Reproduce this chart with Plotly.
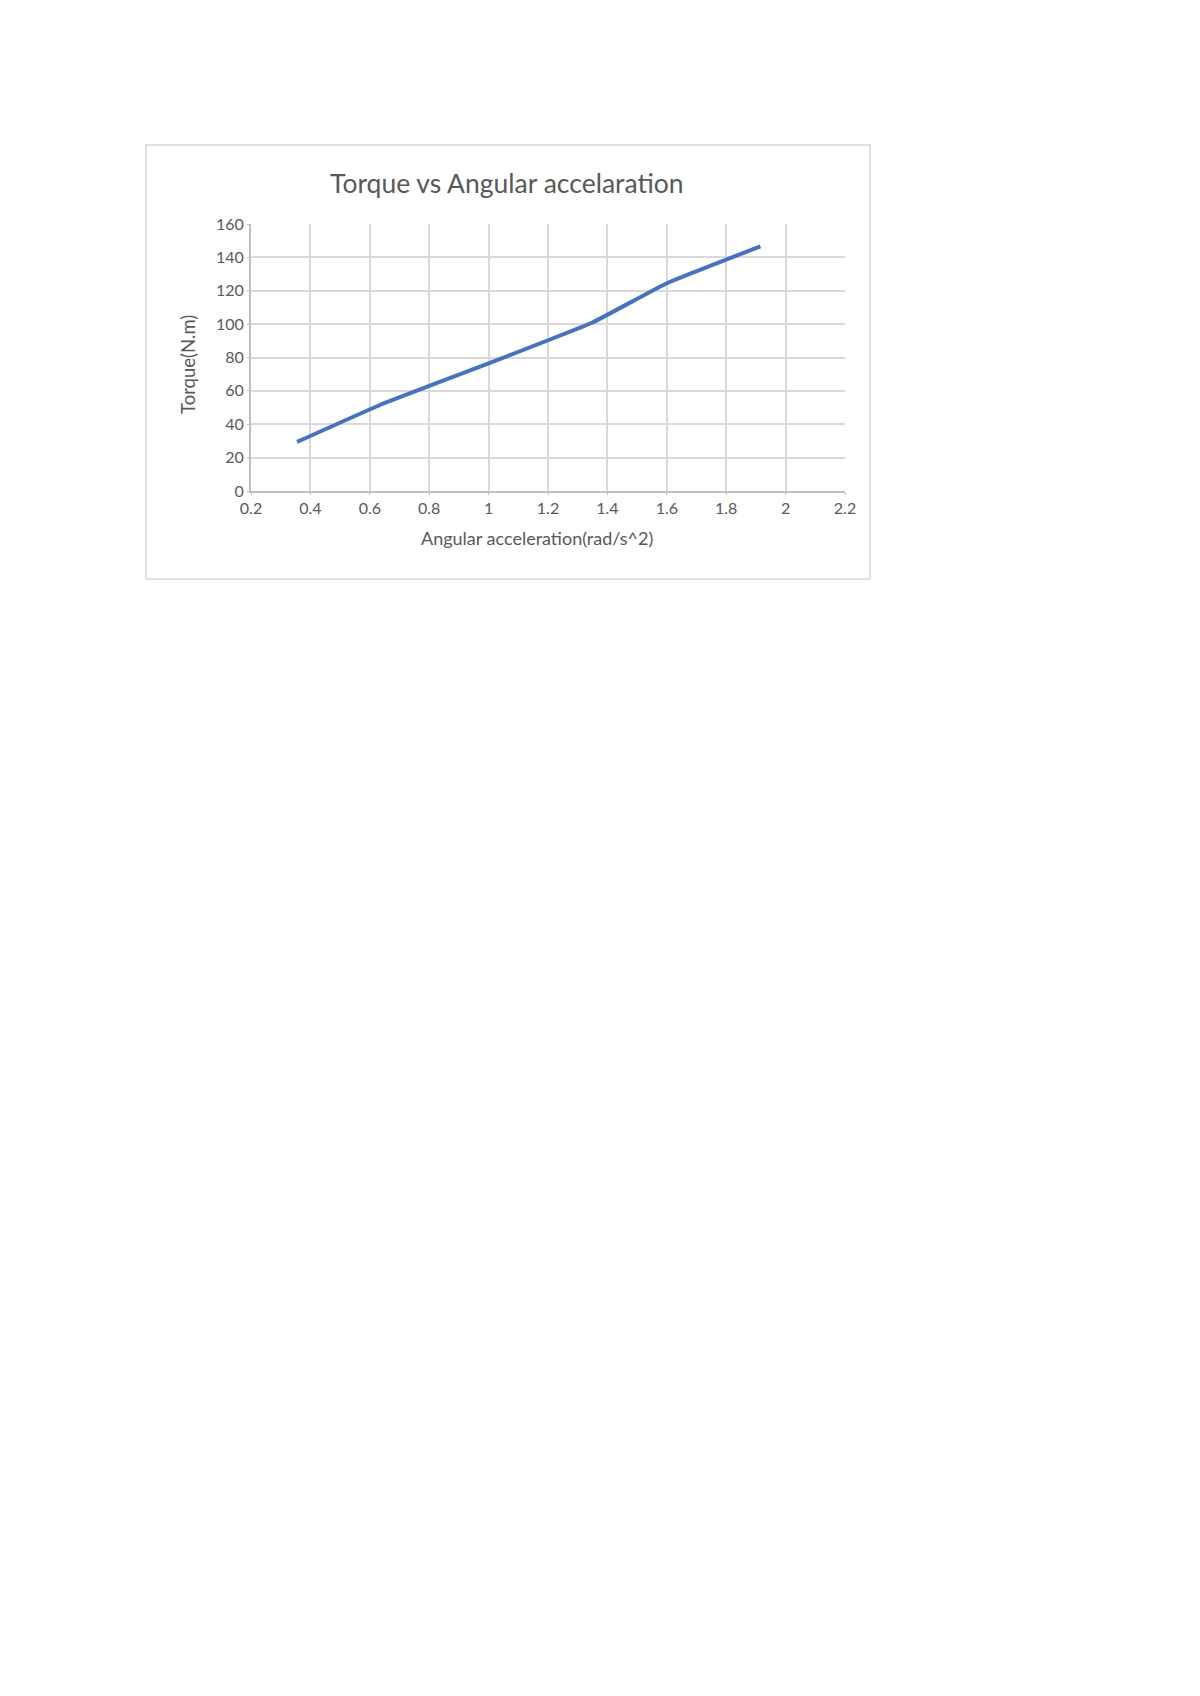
import plotly.graph_objects as go

# Torque vs angular acceleration readings
angular_accel = [0.355, 0.64, 1.0, 1.35, 1.6, 1.915]
torque = [29.4, 52.0, 76.5, 101.0, 124.5, 146.6]

x_ticks = [0.2, 0.4, 0.6, 0.8, 1.0, 1.2, 1.4, 1.6, 1.8, 2.0, 2.2]
x_tick_text = ['0.2', '0.4', '0.6', '0.8', '1', '1.2', '1.4', '1.6', '1.8', '2', '2.2']
y_ticks = [0, 20, 40, 60, 80, 100, 120, 140, 160]

W, H = 1200, 1696
# plot area in pixels
L, R, T, B = 243, 837, 216, 483

font = 'Lato, Carlito, Calibri, sans-serif'
grid = '#d9d9d9'

fig = go.Figure()
fig.add_trace(go.Scatter(
    x=angular_accel, y=torque, mode='lines',
    line=dict(color='#4472C4', width=4, shape='spline', smoothing=0.3),
    showlegend=False))

pw, ph = R - L, B - T
def px(xp):
    return (xp - L) / pw
def py(yp):
    return (B - yp) / ph

# chart frame like the Excel chart border
fig.add_shape(type='rect', xref='paper', yref='paper',
              x0=px(138), x1=px(862), y0=py(571), y1=py(137),
              line=dict(color='#d9d9d9', width=1.5), layer='below')

fig.add_annotation(text='Torque vs Angular accelaration', xref='paper', yref='paper',
                   x=px(499), y=py(175), xanchor='center', yanchor='middle',
                   showarrow=False,
                   font=dict(family=font, size=26.5, color='#595959'))
fig.add_annotation(text='Angular acceleration(rad/s^2)', xref='paper', yref='paper',
                   x=px(529), y=py(530), xanchor='center', yanchor='middle',
                   showarrow=False,
                   font=dict(family=font, size=18, color='#595959'))
fig.add_annotation(text='Torque(N.m)', xref='paper', yref='paper', textangle=-90,
                   x=px(180), y=py(357), xanchor='center', yanchor='middle',
                   showarrow=False,
                   font=dict(family=font, size=18.5, color='#595959'))

fig.update_xaxes(range=[0.2, 2.2], tickvals=x_ticks, ticktext=x_tick_text,
                 showgrid=True, gridcolor=grid, gridwidth=1.5,
                 showline=True, linecolor='#bfbfbf', linewidth=2,
                 ticks='outside', ticklen=2, tickcolor='#bfbfbf',
                 tickfont=dict(family=font, size=16, color='#595959'),
                 zeroline=False)
fig.update_yaxes(range=[0, 160], tickvals=y_ticks,
                 showgrid=True, gridcolor=grid, gridwidth=1.5,
                 showline=True, linecolor='#bfbfbf', linewidth=2,
                 ticks='outside', ticklen=2, tickcolor='#bfbfbf',
                 tickfont=dict(family=font, size=16, color='#595959'),
                 zeroline=False)

fig.update_layout(width=W, height=H,
                  margin=dict(l=L, r=W - R, t=T, b=H - B),
                  paper_bgcolor='white', plot_bgcolor='white')

fig.write_html('out.html')
